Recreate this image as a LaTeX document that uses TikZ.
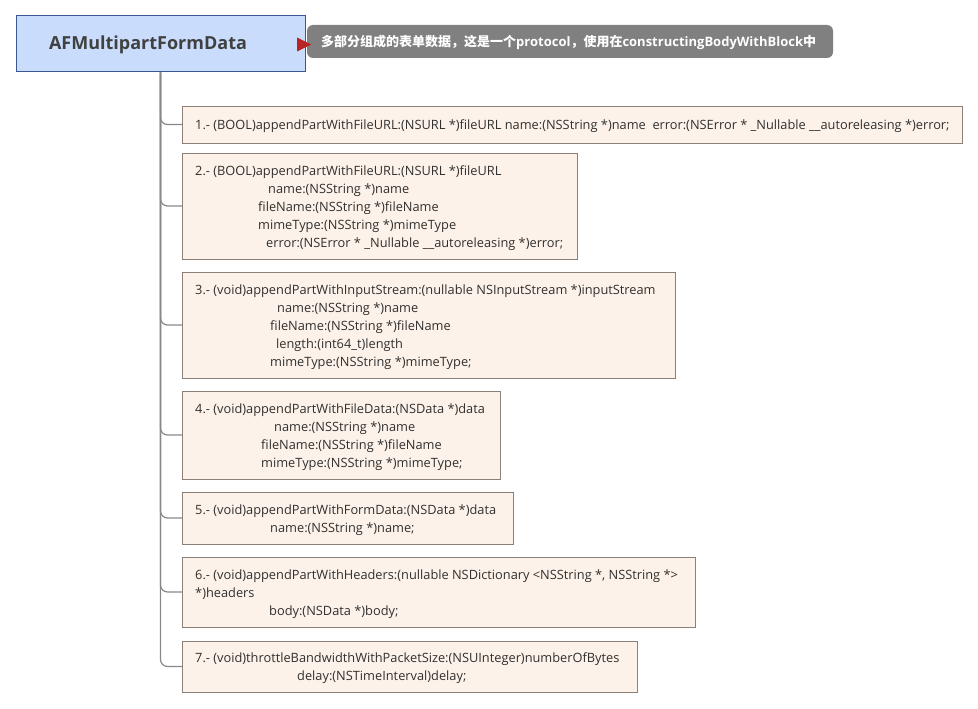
\documentclass[tikz,border=0pt]{standalone}
\usepackage{fontspec}
\setmainfont{Open Sans}
\newfontfamily\cjk{Noto Sans CJK SC}
\definecolor{rootfill}{RGB}{201,220,252}
\definecolor{rootdraw}{RGB}{58,88,148}
\definecolor{roottext}{RGB}{64,64,64}
\definecolor{calloutfill}{RGB}{128,128,128}
\definecolor{tipred}{RGB}{184,36,36}
\definecolor{boxfill}{RGB}{253,242,233}
\definecolor{boxdraw}{RGB}{140,128,120}
\definecolor{linkgray}{RGB}{136,136,136}
\definecolor{txt}{RGB}{48,48,48}
\begin{document}
\begin{tikzpicture}[x=1pt,y=-1pt,
  methodbox/.style={draw=boxdraw,fill=boxfill,line width=0.8pt},
  methodtext/.style={anchor=west,align=left,inner sep=0pt,text=txt,yshift=-2pt,font=\fontsize{12.8}{18}\selectfont},
  link/.style={draw=linkgray,line width=1.2pt,rounded corners=7pt}]
\useasboundingbox (0,0) rectangle (978,709);
% root
\node[draw=rootdraw,fill=rootfill,line width=1pt,minimum width=289pt,minimum height=56pt,inner sep=0pt] (root) at (160.5,44) {};
\node[inner sep=0pt,font=\fontsize{18}{20}\bfseries,text=roottext] (roottext) at (148,45) {AFMultipartFormData};
% callout
\node[fill=calloutfill,rounded corners=6pt,minimum width=526pt,minimum height=33pt,inner sep=0pt] (callout) at (570,41.5) {};
\node[anchor=west,inner sep=0pt,text=white,font=\fontsize{13}{15}\bfseries] (callouttext) at (321,42)
  {{\cjk 多部分组成的表单数据，这是一个}protocol{\cjk ，使用在}constructingBodyWithBlock{\cjk 中}};
\fill[tipred] (297,37.5) -- (311,44.5) -- (297,51.5) -- cycle;
% boxes
\path[methodbox] (182,106) rectangle (962,143); \coordinate (b1) at (182,124.5);
\path[methodbox] (182,153) rectangle (577,259); \coordinate (b2) at (182,206);
\path[methodbox] (182,272) rectangle (675,378); \coordinate (b3) at (182,325);
\path[methodbox] (182,391) rectangle (500,479); \coordinate (b4) at (182,435);
\path[methodbox] (182,492) rectangle (513,544); \coordinate (b5) at (182,518);
\path[methodbox] (182,557) rectangle (695,627); \coordinate (b6) at (182,592);
\path[methodbox] (182,641) rectangle (637,692); \coordinate (b7) at (182,666.5);
% texts
\node[methodtext] (t1) at (195,124.5) {1.- (BOOL)appendPartWithFileURL:(NSURL *)fileURL name:(NSString *)name\ \ error:(NSError * \_Nullable \_\_autoreleasing *)error;};
\node[methodtext] (t2) at (195,206) {2.- (BOOL)appendPartWithFileURL:(NSURL *)fileURL\\
\hspace*{73pt}name:(NSString *)name\\
\hspace*{63pt}fileName:(NSString *)fileName\\
\hspace*{63pt}mimeType:(NSString *)mimeType\\
\hspace*{71pt}error:(NSError * \_Nullable \_\_autoreleasing *)error;};
\node[methodtext] (t3) at (195,325) {3.- (void)appendPartWithInputStream:(nullable NSInputStream *)inputStream\\
\hspace*{82pt}name:(NSString *)name\\
\hspace*{75pt}fileName:(NSString *)fileName\\
\hspace*{81pt}length:(int64\_t)length\\
\hspace*{75pt}mimeType:(NSString *)mimeType;};
\node[methodtext] (t4) at (195,435) {4.- (void)appendPartWithFileData:(NSData *)data\\
\hspace*{79pt}name:(NSString *)name\\
\hspace*{66pt}fileName:(NSString *)fileName\\
\hspace*{66pt}mimeType:(NSString *)mimeType;};
\node[methodtext] (t5) at (195,518) {5.- (void)appendPartWithFormData:(NSData *)data\\
\hspace*{75pt}name:(NSString *)name;};
\node[methodtext] (t6) at (195,592) {6.- (void)appendPartWithHeaders:(nullable NSDictionary <NSString *, NSString *>\\
*)headers\\
\hspace*{74pt}body:(NSData *)body;};
\node[methodtext] (t7) at (195,666.5) {7.- (void)throttleBandwidthWithPacketSize:(NSUInteger)numberOfBytes\\
\hspace*{102pt}delay:(NSTimeInterval)delay;};
% connectors
\foreach \b in {b1,b2,b3,b4,b5,b6,b7}{
  \draw[link] (root.south) |- (\b);
}
\end{tikzpicture}
\end{document}
